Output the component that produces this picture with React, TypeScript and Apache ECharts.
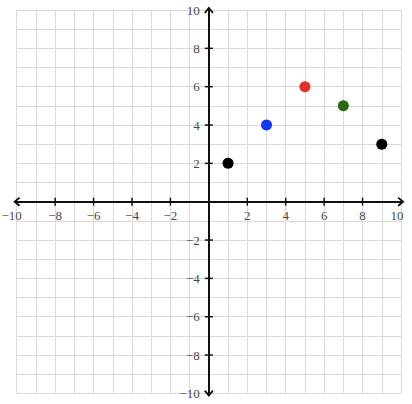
import React, { useEffect, useRef } from "react";
import * as echarts from "echarts";

const pointsX = [1, 3, 5, 7, 9];
const pointsY = [2, 4, 6, 5, 3];
const pointColors = ["#000000", "#1438ee", "#e22f2a", "#2b6a0f", "#000000"];
const tickValues = [-8, -6, -4, -2, 2, 4, 6, 8];
const labelValues = [-10, -8, -6, -4, -2, 2, 4, 6, 8, 10];
const axisMin = -10;
const axisMax = 10;

const fmt = (v: number) => (v < 0 ? "\u2212" + Math.abs(v) : String(v));

const chevron = "path://M5,0 L10,6 L8.6,7.4 L5,3 L1.4,7.4 L0,6 Z";
const FONT = "Liberation Serif, Times New Roman, serif";
const LABEL_COLOR = "#4a4a4a";

export default function App() {
  const ref = useRef<HTMLDivElement>(null);
  useEffect(() => {
    if (!ref.current) return;
    const chart = echarts.init(ref.current, undefined, { renderer: "svg" });
    const axisCommon = {
      type: "value",
      min: axisMin,
      max: axisMax,
      interval: 1,
      splitLine: { show: true, lineStyle: { color: "#dadada", width: 1 } },
      axisLine: {
        onZero: true,
        lineStyle: { color: "#111", width: 2 },
        symbol: [chevron, chevron],
        symbolSize: [10, 7],
      },
      axisTick: { show: false },
      axisLabel: { show: false },
    };
    const textStyle = (text: string, align: string) => ({
      text,
      fill: LABEL_COLOR,
      fontFamily: FONT,
      fontSize: 13,
      align,
      verticalAlign: "middle",
    });
    chart.setOption({
      animation: false,
      grid: {
        left: 16.7,
        right: 11,
        top: 10,
        bottom: 10.6,
        containLabel: false,
        outerBoundsMode: "none",
      },
      xAxis: axisCommon,
      yAxis: axisCommon,
      series: [
        {
          type: "custom",
          silent: true,
          itemStyle: { color: "#111" },
          data: tickValues.map((v) => [v, 0]),
          renderItem: (params: any, api: any) => {
            const p = api.coord([api.value(0), 0]);
            return {
              type: "line",
              shape: { x1: p[0], y1: p[1] - 4, x2: p[0], y2: p[1] + 4 },
              style: { stroke: "#111", lineWidth: 1.5 },
            };
          },
          z: 3,
        },
        {
          type: "custom",
          silent: true,
          itemStyle: { color: "#111" },
          data: tickValues.map((v) => [0, v]),
          renderItem: (params: any, api: any) => {
            const p = api.coord([0, api.value(1)]);
            return {
              type: "line",
              shape: { x1: p[0] - 4, y1: p[1], x2: p[0] + 4, y2: p[1] },
              style: { stroke: "#111", lineWidth: 1.5 },
            };
          },
          z: 3,
        },
        {
          type: "custom",
          silent: true,
          clip: false,
          itemStyle: { color: LABEL_COLOR },
          data: labelValues.map((v) => [v, 0]),
          renderItem: (params: any, api: any) => {
            const v = api.value(0);
            const p = api.coord([v, 0]);
            const shift = v === -10 ? -5 : v === 10 ? -4 : 0;
            return {
              type: "text",
              x: p[0] + shift,
              y: p[1] + 14,
              style: textStyle(fmt(v), "center"),
            };
          },
          z: 4,
        },
        {
          type: "custom",
          silent: true,
          clip: false,
          itemStyle: { color: LABEL_COLOR },
          data: labelValues.map((v) => [0, v]),
          renderItem: (params: any, api: any) => {
            const v = api.value(1);
            const p = api.coord([0, v]);
            return {
              type: "text",
              x: p[0] - 9,
              y: p[1],
              style: textStyle(fmt(v), "right"),
            };
          },
          z: 4,
        },
        {
          type: "scatter",
          symbolSize: 11,
          z: 5,
          data: pointsX.map((x, i) => ({
            value: [x, pointsY[i]],
            itemStyle: { color: pointColors[i], opacity: 1 },
          })),
        },
      ],
    });
    return () => chart.dispose();
  }, []);
  return (
    <div
      ref={ref}
      style={{ position: "fixed", left: 0, top: 0, width: 412, height: 404, background: "#fff" }}
    />
  );
}
